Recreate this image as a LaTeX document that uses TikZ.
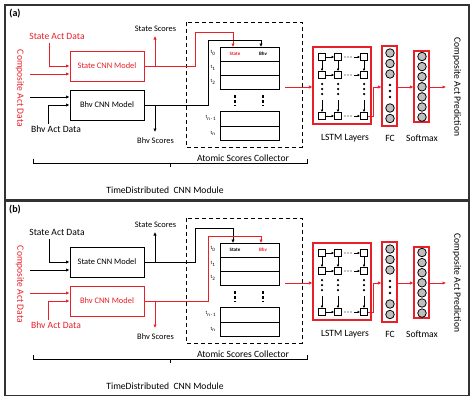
\documentclass[tikz,border=0pt]{standalone}
\usepackage{fontspec}
\setmainfont{Carlito}
\usetikzlibrary{arrows.meta}
\definecolor{rc}{RGB}{232,32,40}
\definecolor{fr}{RGB}{50,50,50}
\tikzset{
  big/.style={font=\fontsize{9.6}{10}\selectfont, inner sep=0pt},
  mid/.style={font=\fontsize{8.4}{9}\selectfont, inner sep=0pt},
  hdr/.style={font=\fontsize{5}{5}\bfseries\selectfont, inner sep=0pt},
  tl/.style={font=\fontsize{5}{5}\selectfont, inner sep=0pt},
  cnnbox/.style={draw, line width=1pt, minimum width=74pt, minimum height=30pt, inner sep=0pt, font=\fontsize{8.4}{9}\selectfont},
  arr/.style={line width=0.9pt, -{Latex[length=3.5pt,width=3.5pt]}},
  sarr/.style={line width=0.8pt, -{Latex[length=2.4pt,width=2.6pt]}},
  sq/.style={draw, line width=0.8pt, minimum size=7pt, inner sep=0pt},
  neuron/.style={circle, draw, line width=0.8pt, fill=black!25, minimum size=8.5pt, inner sep=0pt},
  redbox/.style={draw=rc, line width=1.1pt},
  dot/.style={circle, fill=black, minimum size=2.5pt, inner sep=0pt},
}
\newcommand\drawpanel[5]{%
\begin{scope}[yshift=#4]
  \draw[fr, line width=1.2pt] (5,5) rectangle (469,199.5);
  \node[font=\fontsize{10}{10}\bfseries\selectfont, inner sep=0pt] (#1lbl) at (15,14) {(#5)};
  % inputs
  \node[big, text=#2] (#1sad) at (57,36) {State Act Data};
  \node[big, text=#3] (#1bad) at (56,129) {Bhv Act Data};
  \node[big, text=rc, rotate=-90] (#1cad) at (20,88.5) {Composite Act Data};
  \node[cnnbox, draw=#2, text=#2] (#1scnn) at (107,66) {State CNN Model};
  \node[cnnbox, draw=#3, text=#3] (#1bcnn) at (107,105) {Bhv CNN Model};
  \coordinate (#1sa) at (49,42.5);
  \coordinate (#1ca1) at (30,74);
  \coordinate (#1ca2) at (30,97);
  \coordinate (#1ba) at (48,124);
  \draw[arr, #2] (#1sa) |- (#1scnn.west);
  \draw[arr, #2] (#1ca1) -- (#1ca1 -| #1scnn.west);
  \draw[arr, #3] (#1ca2) -- (#1ca2 -| #1bcnn.west);
  \draw[arr, #3] (#1ba) |- (#1bcnn.west);
  % scores
  \node[mid] (#1ss) at (155.5,29) {State Scores};
  \node[mid] (#1bs) at (155.5,141) {Bhv Scores};
  \coordinate (#1sbr) at (155,66);
  \coordinate (#1bbr) at (155,105);
  \draw[arr, #2] (#1sbr) -- (#1sbr |- 0,36);
  \draw[arr, #3] (#1bbr) -- (#1bbr |- 0,132);
  % collector
  \draw[dashed, line width=1pt, dash pattern=on 4pt off 3pt] (186,22) rectangle (302,147);
  \node[big] (#1asc) at (243,158) {Atomic Scores Collector};
  \draw[line width=1pt] (220,47) rectangle (279,89);
  \draw[line width=1pt] (220,61) -- (279,61) (220,75) -- (279,75);
  \draw[line width=1pt] (220,111) rectangle (279,140);
  \draw[line width=1pt] (220,126) -- (279,126);
  \node[hdr, text=#2] (#1hs) at (235,54) {State};
  \node[hdr, text=#3] (#1hb) at (263,54) {Bhv};
  \node[tl] (#1t0) at (213,53) {t\textsubscript{0}};
  \node[tl] (#1t1) at (213,68) {t\textsubscript{1}};
  \node[tl] (#1t2) at (213,82) {t\textsubscript{2}};
  \node[tl] (#1tn1) at (211,118) {t\textsubscript{n\,-\,1}};
  \node[tl] (#1tn) at (213,133) {t\textsubscript{n}};
  \draw[line width=1.2pt, dash pattern=on 3pt off 2pt] (235,95) -- (235,106) (263,95) -- (263,106);
  \coordinate (#1sin) at (233,47);
  \coordinate (#1bin) at (261,47);
  \draw[arr, #2] (#1scnn.east) -- (195,66) -- (195,32) -| (#1sin);
  \draw[arr, #3] (#1bcnn.east) -- (208,105) -- (208,40) -| (#1bin);
  % LSTM
  \node[redbox, minimum width=58pt, minimum height=77pt, inner sep=0pt] (#1lstm) at (342,85.5) {};
  \node[big] (#1ll) at (345,138) {LSTM Layers};
  \coordinate (#1cout) at (285,87);
  \draw[arr, rc] (#1cout) -- (#1cout -| #1lstm.west);
  \foreach \r/\y in {1/57,2/75,3/116}{
    \node[sq] (#1q\r1) at (322,\y) {};
    \node[sq] (#1q\r2) at (338,\y) {};
    \node[sq] (#1q\r3) at (364,\y) {};
    \draw[sarr] (#1q\r1) -- (#1q\r2);
    \foreach \xx in {345,348,351}{ \fill (\xx,\y) circle (0.6pt); }
    \draw[sarr] (#1q\r3.west) ++(-6,0) -- (#1q\r3.west);
  }
  \foreach \c/\x in {1/322,2/338,3/364}{
    \draw[sarr] (#1q1\c) -- (#1q2\c);
    \node[dot] at (\x,84) {};
    \node[dot] at (\x,89) {};
    \node[dot] at (\x,94) {};
    \draw[sarr] (#1q3\c.north) ++(0,-12) -- (#1q3\c.north);
  }
  % FC
  \node[redbox, minimum width=15pt, minimum height=80pt, inner sep=0pt] (#1fc) at (389.5,86) {};
  \node[big] (#1fcl) at (390,138) {FC};
  \foreach \y in {53,63.5,74,108,118.5}{ \node[neuron] at (390,\y) {}; }
  \node[dot, minimum size=2.8pt] at (390,85) {};
  \node[dot, minimum size=2.8pt] at (390,91) {};
  \node[dot, minimum size=2.8pt] at (390,97) {};
  \draw[arr, rc] (#1q33.east) -- (373,116) -- (373,87) -- (#1fc.west |- 0,87);
  % Softmax
  \node[redbox, minimum width=15pt, minimum height=71pt, inner sep=0pt] (#1sm) at (421.5,86.5) {};
  \node[big] (#1sml) at (422,138) {Softmax};
  \foreach \i in {0,...,6}{ \node[neuron] at (422,56.5+\i*10.1) {}; }
  \draw[arr, rc] (#1fc.east |- 0,87) -- (#1sm.west |- 0,87);
  \node[big, rotate=-90] (#1cap) at (457,87) {Composite Act Prediction};
  \coordinate (#1pend) at (446,87);
  \draw[arr, rc] (#1sm.east |- 0,87) -- (#1pend);
  % bracket
  \draw[line width=1pt] (33,158.5) -- (33,163) -- (307,163) -- (307,158.5);
  \draw[line width=1pt] (170,163) -- (170,167);
  \node[big] (#1tdc) at (165,190) {TimeDistributed\ \ CNN Module};
\end{scope}}
\begin{document}
\begin{tikzpicture}[x=1pt, y=-1pt]
  \useasboundingbox (0,0) rectangle (474,402);
  \fill[white] (0,0) rectangle (474,402);
  \drawpanel{a}{rc}{black}{0pt}{a}
  \drawpanel{b}{black}{rc}{-196pt}{b}
\end{tikzpicture}
\end{document}
